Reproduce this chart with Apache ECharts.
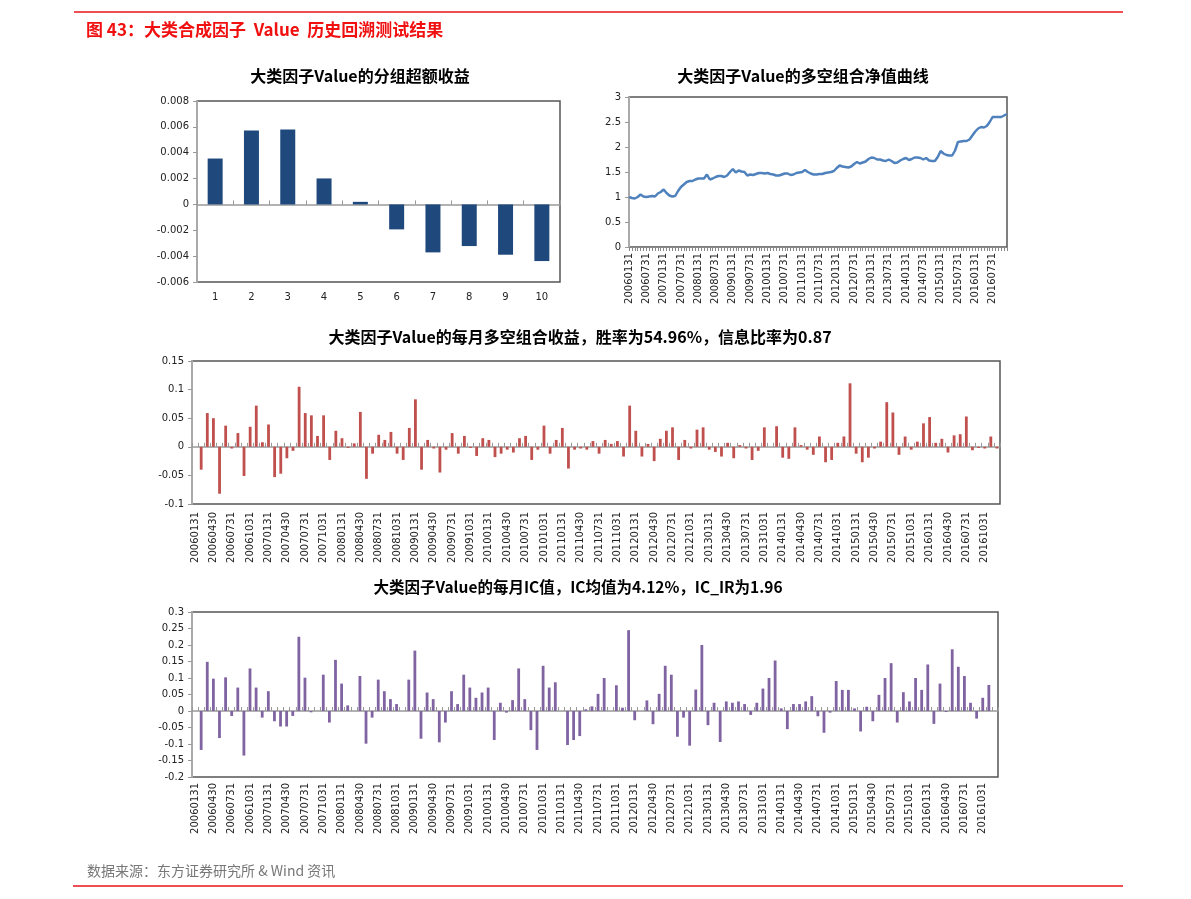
<!DOCTYPE html>
<html lang="zh">
<head>
<meta charset="UTF-8">
<title>大类合成因子 Value 历史回溯测试结果</title>
<script src="https://cdn.jsdelivr.net/npm/echarts@6.0.0/dist/echarts.min.js"></script>
<style>
  body { margin: 0; background: #fff; }
  #chart { width: 1191px; height: 899px; }
</style>
</head>
<body>
<div id="chart"></div>
<script>
// 分组超额收益
const groupLabels = ['1', '2', '3', '4', '5', '6', '7', '8', '9', '10'];
const groupExcess = [0.00355, 0.00571, 0.00579, 0.00201, 0.0002, -0.00193, -0.00371, -0.00322, -0.00389, -0.00438];

// 每月多空组合收益 (2006-01 ~ 2016-12)
const lsReturn = [
  null, -0.040, 0.059, 0.050, -0.082, 0.037, -0.003, 0.024, -0.051, 0.035,
  0.072, 0.008, 0.039, -0.053, -0.047, -0.020, -0.007, 0.105, 0.059, 0.055,
  0.019, 0.055, -0.023, 0.028, 0.015, -0.002, 0.006, 0.061, -0.056, -0.012,
  0.021, 0.012, 0.026, -0.012, -0.023, 0.033, 0.083, -0.040, 0.012, -0.003,
  -0.045, -0.005, 0.024, -0.012, 0.019, -0.002, -0.016, 0.015, 0.012, -0.018,
  -0.012, -0.005, -0.010, 0.015, 0.019, -0.023, -0.005, 0.037, -0.012, 0.012,
  0.033, -0.038, -0.005, -0.003, -0.005, 0.010, -0.012, 0.012, 0.005, 0.010,
  -0.017, 0.072, 0.028, -0.017, 0.005, -0.025, 0.014, 0.028, 0.034, -0.023,
  0.012, -0.003, 0.030, 0.034, -0.005, -0.009, -0.017, 0.007, -0.020, 0.003,
  -0.003, -0.023, -0.007, 0.034, 0.000, 0.036, -0.019, -0.021, 0.034, 0.003,
  -0.005, -0.014, 0.018, -0.027, -0.023, 0.007, 0.018, 0.111, -0.012, -0.027,
  -0.019, -0.003, 0.009, 0.078, 0.060, -0.014, 0.018, -0.005, 0.009, 0.041,
  0.052, 0.007, 0.014, -0.010, 0.020, 0.022, 0.053, -0.006, -0.002, -0.003,
  0.018, -0.003
];

// 每月IC值
const icValue = [
  null, -0.118, 0.149, 0.098, -0.082, 0.102, -0.015, 0.071, -0.135, 0.129,
  0.071, -0.020, 0.060, -0.031, -0.047, -0.047, -0.015, 0.225, 0.101, -0.004,
  0.000, 0.110, -0.035, 0.155, 0.083, 0.017, 0.000, 0.106, -0.099, -0.020,
  0.095, 0.060, 0.036, 0.021, 0.000, 0.095, 0.183, -0.084, 0.056, 0.036,
  -0.095, -0.035, 0.060, 0.021, 0.110, 0.071, 0.040, 0.056, 0.071, -0.088,
  0.025, -0.005, 0.033, 0.129, 0.036, -0.058, -0.118, 0.137, 0.071, 0.087,
  0.000, -0.103, -0.088, -0.076, 0.005, 0.014, 0.052, 0.100, 0.000, 0.078,
  0.010, 0.245, -0.028, 0.000, 0.032, -0.040, 0.052, 0.137, 0.110, -0.078,
  -0.020, -0.105, 0.065, 0.200, -0.043, 0.025, -0.094, 0.029, 0.025, 0.029,
  0.021, -0.012, 0.025, 0.068, 0.100, 0.153, 0.008, -0.055, 0.021, 0.021,
  0.029, 0.045, -0.016, -0.066, -0.005, 0.091, 0.064, 0.064, 0.008, -0.062,
  0.013, -0.031, 0.049, 0.100, 0.145, -0.035, 0.057, 0.029, 0.100, 0.064,
  0.141, -0.039, 0.083, -0.003, 0.187, 0.134, 0.106, 0.025, -0.023, 0.040,
  0.079, null
];

// 多空组合净值
const navValue = [
  1.00, 0.98, 0.97, 1.00, 1.05, 1.01, 1.00, 1.01, 1.02, 1.01,
  1.07, 1.10, 1.15, 1.08, 1.03, 1.01, 1.02, 1.12, 1.20, 1.25,
  1.30, 1.32, 1.32, 1.35, 1.37, 1.37, 1.37, 1.45, 1.35, 1.37,
  1.40, 1.42, 1.42, 1.40, 1.43, 1.50, 1.56, 1.49, 1.53, 1.51,
  1.50, 1.43, 1.45, 1.44, 1.46, 1.48, 1.48, 1.47, 1.48, 1.46,
  1.45, 1.43, 1.43, 1.45, 1.47, 1.47, 1.44, 1.45, 1.48, 1.49,
  1.50, 1.54, 1.50, 1.47, 1.45, 1.45, 1.46, 1.46, 1.48, 1.49,
  1.50, 1.52, 1.58, 1.63, 1.61, 1.60, 1.59, 1.61, 1.66, 1.70,
  1.67, 1.69, 1.71, 1.76, 1.79, 1.78, 1.75, 1.75, 1.73, 1.72,
  1.75, 1.72, 1.68, 1.69, 1.73, 1.76, 1.78, 1.74, 1.76, 1.79,
  1.79, 1.78, 1.75, 1.78, 1.73, 1.72, 1.72, 1.80, 1.92, 1.87,
  1.84, 1.83, 1.83, 1.93, 2.10, 2.11, 2.12, 2.12, 2.15, 2.23,
  2.31, 2.37, 2.40, 2.39, 2.42, 2.50, 2.60, 2.60, 2.60, 2.60,
  2.63, 2.66
];

// 月末日期标签
const months = [];
for (let y = 2006; y <= 2016; y++) {
  for (let m = 1; m <= 12; m++) {
    const d = new Date(y, m, 0).getDate();
    months.push('' + y + String(m).padStart(2, '0') + d);
  }
}

const chart = echarts.init(document.getElementById('chart'));

const labelFont = { fontFamily: 'DejaVu Sans', fontSize: 10, color: '#222' };
const titleFont = 'bold 16px "Noto Sans CJK SC"';

function yAxis(gridIndex, min, max, interval, fmt) {
  return {
    type: 'value', gridIndex, min, max, interval,
    axisLine: { show: true, lineStyle: { color: '#aaa', width: 2 } },
    axisTick: { show: true, length: 4, lineStyle: { color: '#999' } },
    splitLine: { show: false },
    axisLabel: Object.assign({ margin: 8, formatter: fmt }, labelFont)
  };
}

// labels at bottom
function bottomAxis(gridIndex, data, interval, rotate, margin) {
  return {
    type: 'category', gridIndex, data,
    axisLine: { show: false, onZero: false },
    axisTick: { show: false },
    axisLabel: Object.assign({ interval, rotate, margin }, labelFont)
  };
}

// line across zero with ticks
function zeroAxis(gridIndex, data) {
  return {
    type: 'category', gridIndex, data,
    axisLine: { show: true, onZero: true, lineStyle: { color: '#999', width: 1.5 } },
    axisTick: { show: true, interval: 0, length: 4, lineStyle: { color: '#999' } },
    axisLabel: { show: false }
  };
}

const fmt3 = v => (v === 0 ? '0' : v.toFixed(3));
const fmtShort = v => String(+v.toFixed(2));

const gridStyle = { show: true, borderColor: '#555', borderWidth: 1.5, backgroundColor: '#fff' };

chart.setOption({
  animation: false,
  grid: [
    Object.assign({ left: 197, top: 101, width: 363, height: 181 }, gridStyle),
    Object.assign({ left: 629, top: 97, width: 378, height: 150 }, gridStyle),
    Object.assign({ left: 192, top: 361, width: 808, height: 143 }, gridStyle),
    Object.assign({ left: 192, top: 612, width: 806, height: 165 }, gridStyle)
  ],
  xAxis: [
    bottomAxis(0, groupLabels, 0, 0, 10),
    zeroAxis(0, groupLabels),
    {
      type: 'category', gridIndex: 1, data: months, boundaryGap: false,
      axisLine: { show: true, lineStyle: { color: '#888' } },
      axisTick: { show: true, interval: 0, length: 4, lineStyle: { color: '#888' } },
      axisLabel: Object.assign({ interval: 5, rotate: 90, margin: 6 }, labelFont)
    },
    bottomAxis(2, months, 2, 90, 8),
    zeroAxis(2, months),
    bottomAxis(3, months, 2, 90, 6),
    zeroAxis(3, months)
  ],
  yAxis: [
    yAxis(0, -0.006, 0.008, 0.002, fmt3),
    yAxis(1, 0, 3, 0.5, fmtShort),
    yAxis(2, -0.1, 0.15, 0.05, fmtShort),
    yAxis(3, -0.2, 0.3, 0.05, fmtShort)
  ],
  series: [
    {
      type: 'bar', xAxisIndex: 0, yAxisIndex: 0, data: groupExcess,
      barWidth: 15, itemStyle: { color: '#1f497d' }
    },
    {
      type: 'line', xAxisIndex: 2, yAxisIndex: 1, data: navValue,
      showSymbol: false, lineStyle: { color: '#4f81bd', width: 2.5 }
    },
    {
      type: 'bar', xAxisIndex: 3, yAxisIndex: 2, data: lsReturn,
      barWidth: 2.8, itemStyle: { color: '#c0504d' }
    },
    {
      type: 'bar', xAxisIndex: 5, yAxisIndex: 3, data: icValue,
      barWidth: 2.8, itemStyle: { color: '#8064a2' }
    }
  ],
  graphic: [
    { type: 'line', shape: { x1: 74, y1: 12, x2: 1123, y2: 12 }, style: { stroke: '#e8141c', lineWidth: 1.5 } },
    { type: 'line', shape: { x1: 73, y1: 886, x2: 1123, y2: 886 }, style: { stroke: '#e8141c', lineWidth: 1.5 } },
    {
      type: 'text', x: 86, y: 30,
      style: { text: '图 43：大类合成因子  Value  历史回溯测试结果', font: 'bold 17px "Noto Sans CJK SC"', fill: '#f01010', verticalAlign: 'middle' }
    },
    {
      type: 'text', x: 360, y: 76,
      style: { text: '大类因子Value的分组超额收益', font: titleFont, fill: '#000', align: 'center', verticalAlign: 'middle' }
    },
    {
      type: 'text', x: 803, y: 76,
      style: { text: '大类因子Value的多空组合净值曲线', font: titleFont, fill: '#000', align: 'center', verticalAlign: 'middle' }
    },
    {
      type: 'text', x: 580, y: 337,
      style: { text: '大类因子Value的每月多空组合收益，胜率为54.96%，信息比率为0.87', font: titleFont, fill: '#000', align: 'center', verticalAlign: 'middle' }
    },
    {
      type: 'text', x: 578, y: 587,
      style: { text: '大类因子Value的每月IC值，IC均值为4.12%，IC_IR为1.96', font: 'bold 15.5px "Noto Sans CJK SC"', fill: '#000', align: 'center', verticalAlign: 'middle' }
    },
    {
      type: 'text', x: 87, y: 871,
      style: { text: '数据来源：东方证券研究所 & Wind 资讯', font: '14px "Noto Sans CJK SC"', fill: '#777', verticalAlign: 'middle' }
    }
  ]
});
</script>
</body>
</html>
